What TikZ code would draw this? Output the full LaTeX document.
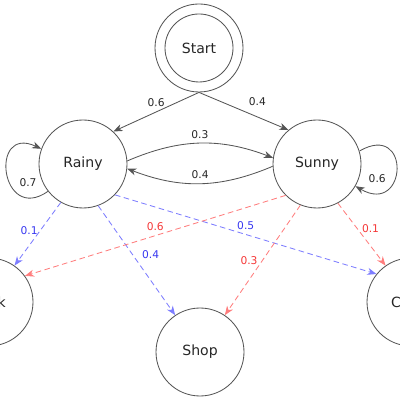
\documentclass[tikz,border=0pt]{standalone}
\usepackage{fontspec}
\setmainfont{DejaVu Sans}
\usepackage{xcolor}
\usetikzlibrary{arrows,arrows.meta,shapes,positioning}
\definecolor{edgegray}{RGB}{85,85,85}
\definecolor{lineblue}{RGB}{125,125,255}
\definecolor{linered}{RGB}{255,125,125}
\definecolor{textblue}{RGB}{55,55,240}
\definecolor{textred}{RGB}{245,55,55}

\begin{document}
\begin{tikzpicture}[>={Stealth[length=6.5pt,width=5pt,inset=2pt]},
    state/.style={circle, draw=edgegray, line width=0.6pt, minimum size=2.2cm, inner sep=0pt, text=black!85, font=\fontsize{10}{12}\selectfont},
    trans/.style={->, draw=edgegray, line width=0.6pt},
    emitblue/.style={->, draw=lineblue, line width=0.6pt, dash pattern=on 4pt off 2.5pt},
    emitred/.style={->, draw=linered, line width=0.6pt, dash pattern=on 4pt off 2.5pt},
    prob/.style={text=black!85, font=\fontsize{7.6}{9}\selectfont},
    probblue/.style={prob, text=textblue},
    probred/.style={prob, text=textred}]
            \useasboundingbox (0,0) rectangle (10,10);
            \clip (0,0) rectangle (10,10);

            % Hidden states
            \node[state] (start) at (4.975,8.8) {Start};
            \draw[edgegray, line width=0.6pt] (start) circle (0.85cm);
            \node[state] (rainy) at (2.075,5.9) {Rainy};
            \node[state] (sunny) at (7.925,5.9) {Sunny};

            % Observations
            \node[state] (walk) at (-0.275,2.45) {Walk};
            \node[state] (shop) at (5,1.2) {Shop};
            \node[state] (clean) at (10.275,2.45) {Clean};

            % Start probabilities
            \draw[trans] (start.south) -- node[prob, above] (pstartrainy) {0.6} (rainy.47);
            \draw[trans] (start.south) -- node[prob, above right] (pstartsunny) {0.4} (sunny.130);

            % Transitions
            \draw[trans] (rainy.4) to[bend left=22] node[prob, above] (prainysunny) {0.3} (sunny.172);
            \draw[trans] (sunny.183) to[bend left=22] node[prob, above] (psunnyrainy) {0.4} (rainy.-6);
            \draw[trans] (rainy.218) to[out=215, in=155, distance=1.45cm] (rainy.160);
            \node[prob] (prainyrainy) at (0.7,5.43) {0.7};
            \draw[trans] (sunny.17) to[out=30, in=-30, distance=1.5cm] (sunny.-30);
            \node[prob] (psunnysunny) at (9.43,5.53) {0.6};

            % Emissions
            \draw[emitblue] (rainy.240) -- node[probblue, pos=.45, left=-2pt] (prainywalk) {0.1} (walk.55);
            \draw[emitblue] (rainy.-70) -- node[probblue, pos=.45, right=3pt] (prainyshop) {0.4} (shop.124);
            \draw[emitblue] (rainy.-44) -- node[probblue, midway, above] (prainyclean) {0.5} (clean.141);
            \draw[emitred] (sunny.225) -- node[probred, midway, above] (psunnywalk) {0.6} (walk.36);
            \draw[emitred] (sunny.248) -- node[probred, midway, left] (psunnyshop) {0.3} (shop.56);
            \draw[emitred] (sunny.-62) -- node[probred, pos=.4, right] (psunnyclean) {0.1} (clean.125);
        \end{tikzpicture}
\end{document}
